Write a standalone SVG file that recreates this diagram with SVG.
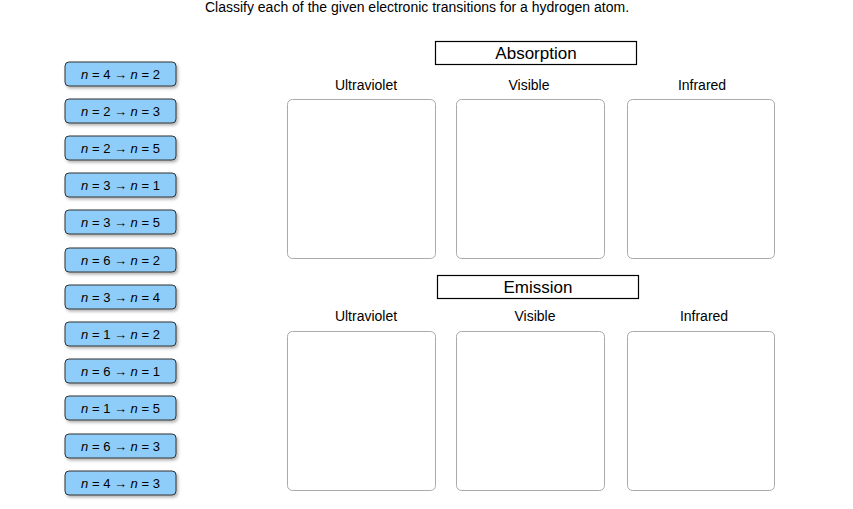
<svg xmlns="http://www.w3.org/2000/svg" width="853" height="509" viewBox="0 0 853 509">
<style>
text{font-family:"Liberation Sans",Arial,sans-serif;fill:#000}
.chip rect{fill:#8ecdf9;stroke:#333;stroke-width:1}
.chip text{font-size:13px;text-anchor:middle}
.n{font-style:italic}
.bin{fill:#fff;stroke:#aaa;stroke-width:1}
.hdr{fill:#fff;stroke:#000;stroke-width:1.2}
.lbl{font-size:14px;text-anchor:middle}
.title{font-size:17px;text-anchor:middle}
</style>
<defs><filter id="sh" x="-10%" y="-20%" width="130%" height="160%"><feDropShadow dx="1.5" dy="2" stdDeviation="1.5" flood-color="#000" flood-opacity="0.3"/></filter></defs>
<rect width="853" height="509" fill="#fff"/>
<text x="417" y="12" font-size="14" text-anchor="middle">Classify each of the given electronic transitions for a hydrogen atom.</text>
<g id="chips">
<g class="chip" id="c1"><rect x="65" y="62" width="111" height="24" rx="4" filter="url(#sh)"/><text x="120.5" y="79"><tspan class="n">n</tspan> = 4 → <tspan class="n">n</tspan> = 2</text></g>
<g class="chip" id="c2"><rect x="65" y="99" width="111" height="24" rx="4" filter="url(#sh)"/><text x="120.5" y="116"><tspan class="n">n</tspan> = 2 → <tspan class="n">n</tspan> = 3</text></g>
<g class="chip" id="c3"><rect x="65" y="136" width="111" height="24" rx="4" filter="url(#sh)"/><text x="120.5" y="153"><tspan class="n">n</tspan> = 2 → <tspan class="n">n</tspan> = 5</text></g>
<g class="chip" id="c4"><rect x="65" y="173" width="111" height="24" rx="4" filter="url(#sh)"/><text x="120.5" y="190"><tspan class="n">n</tspan> = 3 → <tspan class="n">n</tspan> = 1</text></g>
<g class="chip" id="c5"><rect x="65" y="210" width="111" height="24" rx="4" filter="url(#sh)"/><text x="120.5" y="227"><tspan class="n">n</tspan> = 3 → <tspan class="n">n</tspan> = 5</text></g>
<g class="chip" id="c6"><rect x="65" y="248" width="111" height="24" rx="4" filter="url(#sh)"/><text x="120.5" y="265"><tspan class="n">n</tspan> = 6 → <tspan class="n">n</tspan> = 2</text></g>
<g class="chip" id="c7"><rect x="65" y="285" width="111" height="24" rx="4" filter="url(#sh)"/><text x="120.5" y="302"><tspan class="n">n</tspan> = 3 → <tspan class="n">n</tspan> = 4</text></g>
<g class="chip" id="c8"><rect x="65" y="322" width="111" height="24" rx="4" filter="url(#sh)"/><text x="120.5" y="339"><tspan class="n">n</tspan> = 1 → <tspan class="n">n</tspan> = 2</text></g>
<g class="chip" id="c9"><rect x="65" y="359" width="111" height="24" rx="4" filter="url(#sh)"/><text x="120.5" y="376"><tspan class="n">n</tspan> = 6 → <tspan class="n">n</tspan> = 1</text></g>
<g class="chip" id="c10"><rect x="65" y="396" width="111" height="24" rx="4" filter="url(#sh)"/><text x="120.5" y="413"><tspan class="n">n</tspan> = 1 → <tspan class="n">n</tspan> = 5</text></g>
<g class="chip" id="c11"><rect x="65" y="434" width="111" height="24" rx="4" filter="url(#sh)"/><text x="120.5" y="451"><tspan class="n">n</tspan> = 6 → <tspan class="n">n</tspan> = 3</text></g>
<g class="chip" id="c12"><rect x="65" y="471" width="111" height="24" rx="4" filter="url(#sh)"/><text x="120.5" y="488"><tspan class="n">n</tspan> = 4 → <tspan class="n">n</tspan> = 3</text></g>
</g>
<g id="absorption">
<rect class="hdr" x="435.5" y="41.5" width="201" height="23"/>
<text class="title" x="536" y="59">Absorption</text>
<text class="lbl" x="366" y="90">Ultraviolet</text>
<text class="lbl" x="529" y="90">Visible</text>
<text class="lbl" x="702" y="90">Infrared</text>
<rect class="bin" x="287.5" y="99.5" width="148" height="159" rx="5"/>
<rect class="bin" x="456.5" y="99.5" width="148" height="159" rx="5"/>
<rect class="bin" x="627.5" y="99.5" width="147" height="159" rx="5"/>
</g>
<g id="emission">
<rect class="hdr" x="437.5" y="275.5" width="201" height="23"/>
<text class="title" x="538" y="293">Emission</text>
<text class="lbl" x="366" y="321">Ultraviolet</text>
<text class="lbl" x="535" y="321">Visible</text>
<text class="lbl" x="704" y="321">Infrared</text>
<rect class="bin" x="287.5" y="331.5" width="148" height="159" rx="5"/>
<rect class="bin" x="456.5" y="331.5" width="148" height="159" rx="5"/>
<rect class="bin" x="627.5" y="331.5" width="147" height="159" rx="5"/>
</g>
<g id="connectors"/>
</svg>
